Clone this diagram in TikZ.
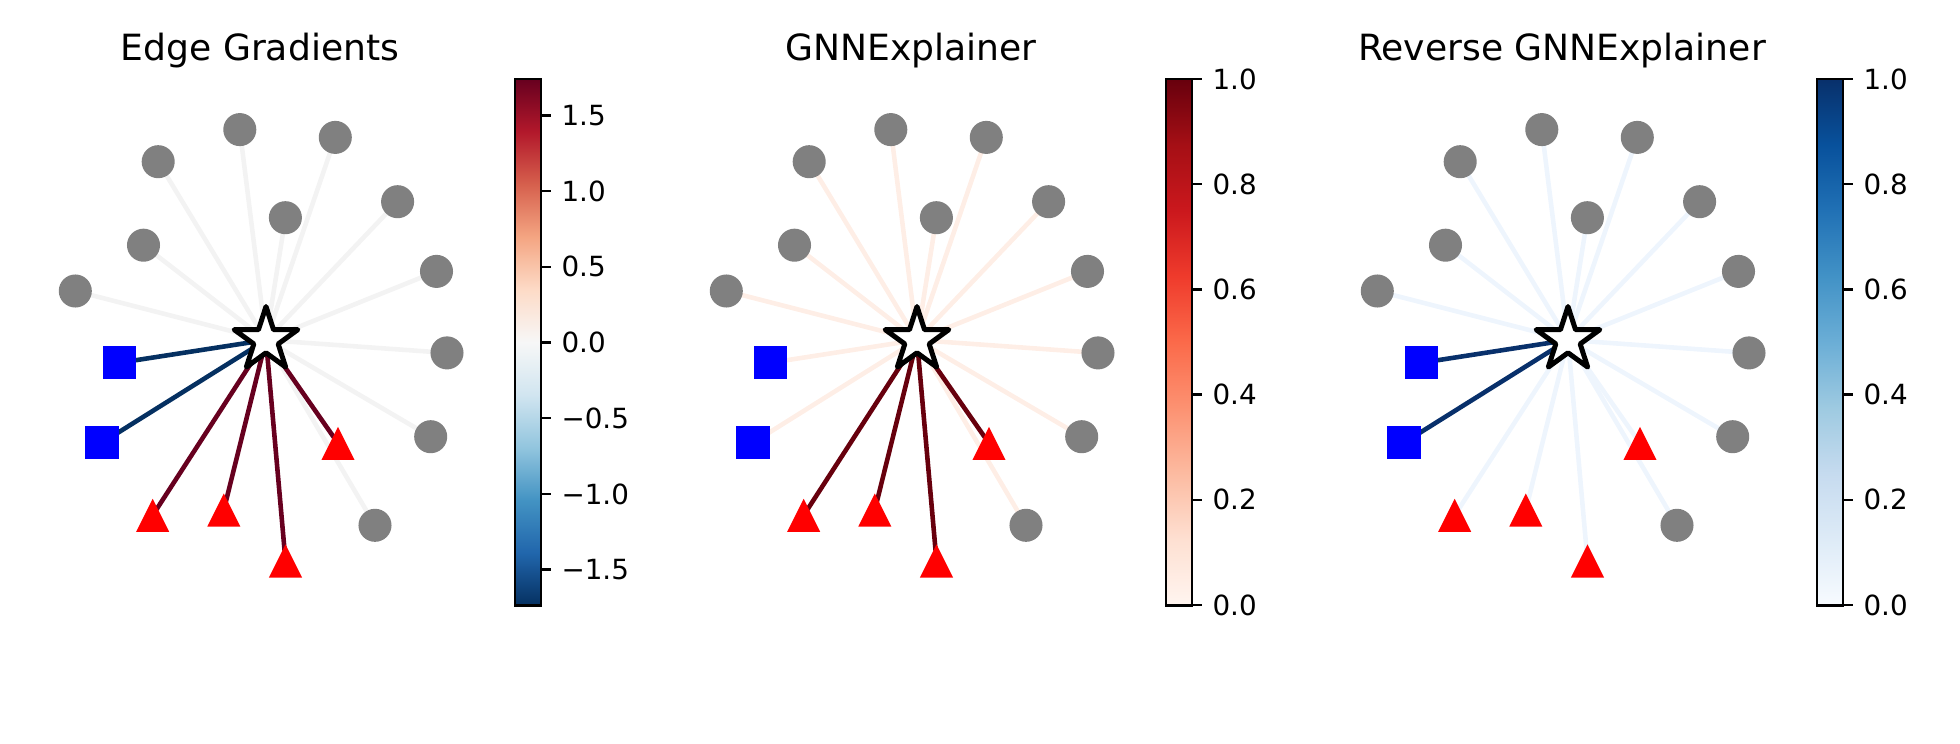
\documentclass[tikz,border=0pt]{standalone}
\usepackage{fontspec}
\setmainfont{DejaVu Sans}
\usetikzlibrary{shapes.geometric,backgrounds}
% RdBu_r
\definecolor{rb0}{HTML}{053061}\definecolor{rb1}{HTML}{2166AC}\definecolor{rb2}{HTML}{4393C3}
\definecolor{rb3}{HTML}{92C5DE}\definecolor{rb4}{HTML}{D1E5F0}\definecolor{rb5}{HTML}{F7F7F7}
\definecolor{rb6}{HTML}{FDDBC7}\definecolor{rb7}{HTML}{F4A582}\definecolor{rb8}{HTML}{D6604D}
\definecolor{rb9}{HTML}{B2182B}\definecolor{rb10}{HTML}{67001F}
% Reds
\definecolor{rd0}{HTML}{FFF5F0}\definecolor{rd1}{HTML}{FEE0D2}\definecolor{rd2}{HTML}{FCBBA1}
\definecolor{rd3}{HTML}{FC9272}\definecolor{rd4}{HTML}{FB6A4A}\definecolor{rd5}{HTML}{EF3B2C}
\definecolor{rd6}{HTML}{CB181D}\definecolor{rd7}{HTML}{A50F15}\definecolor{rd8}{HTML}{67000D}
% Blues
\definecolor{bl0}{HTML}{F7FBFF}\definecolor{bl1}{HTML}{DEEBF7}\definecolor{bl2}{HTML}{C6DBEF}
\definecolor{bl3}{HTML}{9ECAE1}\definecolor{bl4}{HTML}{6BAED6}\definecolor{bl5}{HTML}{4292C6}
\definecolor{bl6}{HTML}{2171B5}\definecolor{bl7}{HTML}{08519C}\definecolor{bl8}{HTML}{08306B}
\definecolor{nodegray}{HTML}{808080}
\definecolor{trired}{HTML}{FF0000}
\definecolor{sqblue}{HTML}{0000FF}
\definecolor{faintgray}{HTML}{F3F3F3}
\definecolor{faintred}{HTML}{FEEEE6}
\definecolor{faintblue}{HTML}{EEF5FD}
\pgfdeclareverticalshading{rdbur}{100bp}{color(0bp)=(rb0); color(25bp)=(rb0); color(30bp)=(rb1); color(35bp)=(rb2); color(40bp)=(rb3); color(45bp)=(rb4); color(50bp)=(rb5); color(55bp)=(rb6); color(60bp)=(rb7); color(65bp)=(rb8); color(70bp)=(rb9); color(75bp)=(rb10); color(100bp)=(rb10)}
\pgfdeclareverticalshading{redsmap}{100bp}{color(0bp)=(rd0); color(25bp)=(rd0); color(31.25bp)=(rd1); color(37.5bp)=(rd2); color(43.75bp)=(rd3); color(50bp)=(rd4); color(56.25bp)=(rd5); color(62.5bp)=(rd6); color(68.75bp)=(rd7); color(75bp)=(rd8); color(100bp)=(rd8)}
\pgfdeclareverticalshading{bluesmap}{100bp}{color(0bp)=(bl0); color(25bp)=(bl0); color(31.25bp)=(bl1); color(37.5bp)=(bl2); color(43.75bp)=(bl3); color(50bp)=(bl4); color(56.25bp)=(bl5); color(62.5bp)=(bl6); color(68.75bp)=(bl7); color(75bp)=(bl8); color(100bp)=(bl8)}
\tikzset{
  cnode/.style={circle, fill=nodegray, minimum size=11.9pt, inner sep=0pt, outer sep=0pt},
  sqnode/.style={rectangle, fill=sqblue, minimum size=11.9pt, inner sep=0pt, outer sep=0pt},
  trinode/.style={rectangle, minimum size=11.9pt, inner sep=0pt, outer sep=0pt,
    path picture={\fill[trired] (path picture bounding box.north) -- (path picture bounding box.south west) -- (path picture bounding box.south east) -- cycle;}},
  starnode/.style={star, star points=5, star point ratio=2.618, minimum size=24.1pt, inner sep=0pt,
    draw=black, fill=white, line width=1.8pt, line join=round},
  edgebase/.style={line width=1.65pt},
  efaint1/.style={edgebase, draw=faintgray},
  efaint2/.style={edgebase, draw=faintred},
  efaint3/.style={edgebase, draw=faintblue},
  esqdark/.style={edgebase, draw=rb0},
  etridark/.style={edgebase, draw=rb10},
  etrireds/.style={edgebase, draw=rd8},
  esqblues/.style={edgebase, draw=bl8},
  cbar/.style={draw=black, line width=0.8pt, minimum width=9.36pt, minimum height=189.5pt, inner sep=0pt, outer sep=0pt, shade},
  cbtick/.style={line width=0.8pt, draw=black},
  ticklab/.style={anchor=west, inner sep=0pt, xshift=3.5pt, font=\fontsize{10}{12}\selectfont},
  paneltitle/.style={anchor=base, inner sep=0pt, font=\fontsize{13}{15}\selectfont}
}
% #1 panel index, #2 x shift, #3 square edge style, #4 triangle edge style, #5 faint style
\newcommand{\drawpanel}[5]{%
\begin{scope}[shift={(#2,0)}]
  \node[starnode] (S#1) at (266,340) {};
  \node[sqnode] (qa#1) at (119.7,362.7) {};
  \node[sqnode] (qb#1) at (102,442.7) {};
  \node[trinode] (ta#1) at (152.7,515.3) {};
  \node[trinode] (tb#1) at (223.8,510) {};
  \node[trinode] (tc#1) at (285.5,561) {};
  \node[trinode] (td#1) at (338,443.3) {};
  \foreach \n/\x/\y in {1/75.3/291, 2/143.5/245.2, 3/158.2/161.7, 4/239.8/129.6, 5/335.3/137.4,
      6/285.4/217.7, 7/397.6/201.7, 8/436.5/271.4, 9/447/352.9, 10/430.7/436.7, 11/375/525.3}
    {\node[cnode] (c\n-#1) at (\x,\y) {};}
  \begin{pgfonlayer}{background}
    \foreach \n in {1,...,11} {\draw[#5] (S#1.center) -- (c\n-#1.center);}
    \draw[#3] (S#1.center) -- (qa#1.center);
    \draw[#3] (S#1.center) -- (qb#1.center);
    \draw[#4] (S#1.center) -- (ta#1.center);
    \draw[#4] (S#1.center) -- (tb#1.center);
    \draw[#4] (S#1.center) -- (tc#1.center);
    \draw[#4] (S#1.center) -- (td#1.center);
  \end{pgfonlayer}
\end{scope}}
\begin{document}
\begin{tikzpicture}[x=0.36pt,y=-0.36pt]
\useasboundingbox (0,0) rectangle (1960,744);
% panels
\drawpanel{1}{0}{esqdark}{etridark}{efaint1}
\drawpanel{2}{651}{efaint2}{etrireds}{efaint2}
\drawpanel{3}{1302}{esqblues}{efaint3}{efaint3}
% titles
\node[paneltitle] (T1) at (260,61) {Edge Gradients};
\node[paneltitle] (T2) at (911,61) {GNNExplainer};
\node[paneltitle] (T3) at (1562,61) {Reverse GNNExplainer};
% colorbars
\node[cbar, shading=rdbur] (cb1) at (528,342.25) {};
\node[cbar, shading=redsmap] (cb2) at (1179,342.25) {};
\node[cbar, shading=bluesmap] (cb3) at (1830,342.25) {};
\foreach \v/\y [count=\i] in {1.5/115.4, 1.0/191.1, 0.5/266.8, 0.0/342.5, −0.5/418.2, −1.0/493.9, −1.5/569.6}
  {\draw[cbtick] (541,\y) -- (550.7,\y) node[ticklab] (ka\i) {\v};}
\foreach \v/\y [count=\i] in {0.0/605, 0.2/499.8, 0.4/394.6, 0.6/289.4, 0.8/184.2, 1.0/79}
  {\draw[cbtick] (1192,\y) -- (1201.7,\y) node[ticklab] (kb\i) {\v};
   \draw[cbtick] (1843,\y) -- (1852.7,\y) node[ticklab] (kc\i) {\v};}
\end{tikzpicture}
\end{document}
